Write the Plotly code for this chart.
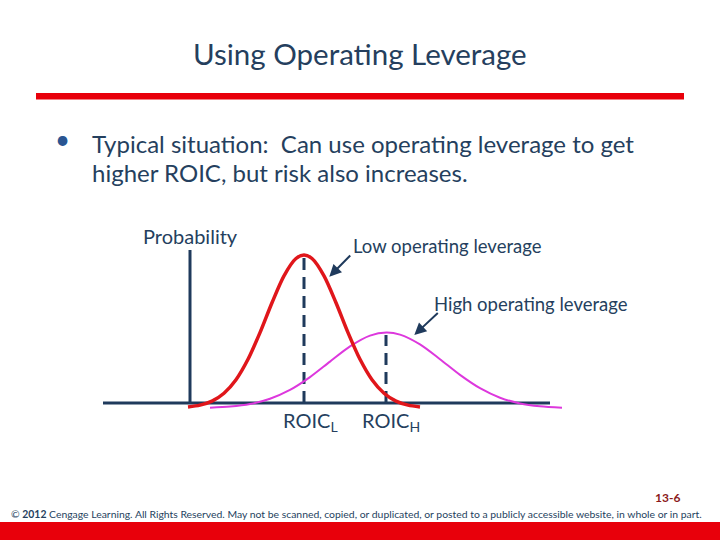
import plotly.graph_objects as go

# ---- data (x: ROIC units, y: probability units) ----
low_x = [-0.2, 1.0, 2.2, 3.4, 4.6, 5.8, 7.0, 8.2, 9.4, 10.6, 11.4, 12.2, 13.4, 14.6, 15.8, 17.0, 18.2, 19.4, 20.6, 21.8, 23.0]
low_y = [-0.39, -0.21, 0.19, 0.98, 2.33, 4.37, 7.04, 10.03, 12.72, 14.45, 14.8, 14.45, 12.72, 10.03, 7.04, 4.37, 2.33, 0.98, 0.19, -0.21, -0.39]

high_x = [2.0, 4.0, 6.0, 8.0, 10.0, 12.0, 14.0, 16.0, 18.0, 19.65, 21.0, 23.0, 25.0, 27.0, 29.0, 31.0, 33.0, 35.0, 37.2]
high_y = [-0.48, -0.36, -0.10, 0.43, 1.31, 2.59, 4.14, 5.66, 6.74, 7.05, 6.84, 5.86, 4.38, 2.81, 1.48, 0.53, -0.04, -0.33, -0.48]

axis_x = [-8.7, 36.0]
prob_axis_top = 15.3
roic_L = 11.4
roic_H = 19.6
roic_L_top = 14.5
roic_H_top = 6.8

TXT = "#253f5e"
NAVY = "#1f3a5c"
RED = "#e0161b"
MAG = "#dd38dd"
BAR = "#e8000b"
FONT = "Lato"

fig = go.Figure()

# axes
fig.add_trace(go.Scatter(x=axis_x, y=[0, 0], mode="lines", line=dict(color=NAVY, width=3), hoverinfo="skip"))
fig.add_trace(go.Scatter(x=[0, 0], y=[0, prob_axis_top], mode="lines", line=dict(color=NAVY, width=3), hoverinfo="skip"))
# dashed ROIC markers
fig.add_trace(go.Scatter(x=[roic_L, roic_L], y=[0, roic_L_top], mode="lines",
                         line=dict(color=NAVY, width=3, dash="12px,7px"), hoverinfo="skip"))
fig.add_trace(go.Scatter(x=[roic_H, roic_H], y=[0, roic_H_top], mode="lines",
                         line=dict(color=NAVY, width=3, dash="12px,7px"), hoverinfo="skip"))
# curves
fig.add_trace(go.Scatter(x=high_x, y=high_y, mode="lines", line=dict(color=MAG, width=2, shape="spline", smoothing=0.8), hoverinfo="skip"))
fig.add_trace(go.Scatter(x=low_x, y=low_y, mode="lines", line=dict(color=RED, width=3.5, shape="spline", smoothing=0.8), hoverinfo="skip"))

ann = []
# data-space labels
ann.append(dict(x=0, y=16.7, xref="x", yref="y", text="Probability", showarrow=False,
                font=dict(family=FONT, size=20, color=TXT), xanchor="center", yanchor="middle"))
ann.append(dict(x=16.1, y=15.7, xref="x", yref="y", text="Low operating leverage", showarrow=False,
                font=dict(family=FONT, size=18.5, color=TXT), xanchor="left", yanchor="middle"))
ann.append(dict(x=24.2, y=9.9, xref="x", yref="y", text="High operating leverage", showarrow=False,
                font=dict(family=FONT, size=18.5, color=TXT), xanchor="left", yanchor="middle"))
ann.append(dict(x=9.1, y=-1.8, xref="x", yref="y", text="ROIC<sub>L</sub>", showarrow=False,
                font=dict(family=FONT, size=20, color=TXT), xanchor="left", yanchor="middle"))
ann.append(dict(x=17.0, y=-1.8, xref="x", yref="y", text="ROIC<sub>H</sub>", showarrow=False,
                font=dict(family=FONT, size=20, color=TXT), xanchor="left", yanchor="middle"))
# arrows
ann.append(dict(x=13.93, y=12.63, ax=16.17, ay=14.9, xref="x", yref="y", axref="x", ayref="y", text="",
                showarrow=True, arrowhead=2, arrowsize=1.2, arrowwidth=2, arrowcolor=NAVY))
ann.append(dict(x=22.43, y=6.8, ax=24.93, ay=9.13, xref="x", yref="y", axref="x", ayref="y", text="",
                showarrow=True, arrowhead=2, arrowsize=1.2, arrowwidth=2, arrowcolor=NAVY))

def px(x):
    return x / 720.0

def py(y):
    return 1 - y / 540.0

# slide text
ann.append(dict(x=px(360), y=py(54), xref="paper", yref="paper", text="Using Operating Leverage", showarrow=False,
                font=dict(family=FONT, size=29.5, color=TXT), xanchor="center", yanchor="middle"))
ann.append(dict(x=px(62), y=py(139), xref="paper", yref="paper", text="•", showarrow=False,
                font=dict(family=FONT, size=26, color="#2a5592"), xanchor="center", yanchor="middle"))
ann.append(dict(x=px(90), y=py(144), xref="paper", yref="paper", text="Typical situation:  Can use operating leverage to get",
                showarrow=False, font=dict(family=FONT, size=24, color=TXT), xanchor="left", yanchor="middle"))
ann.append(dict(x=px(90), y=py(172), xref="paper", yref="paper", text="higher ROIC, but risk also increases.",
                showarrow=False, font=dict(family=FONT, size=24, color=TXT), xanchor="left", yanchor="middle"))
ann.append(dict(x=px(682), y=py(497), xref="paper", yref="paper", text="<b>13-6</b>", showarrow=False,
                font=dict(family=FONT, size=12, color="#8b1a1a"), xanchor="right", yanchor="middle"))
ann.append(dict(x=px(356), y=py(514), xref="paper", yref="paper",
                text="© <b>2012</b> Cengage Learning. All Rights Reserved. May not be scanned, copied, or duplicated, or posted to a publicly accessible website, in whole or in part.",
                showarrow=False, font=dict(family=FONT, size=10.4, color=TXT), xanchor="center", yanchor="middle"))

shapes = [
    dict(type="rect", xref="paper", yref="paper", x0=px(36), x1=px(684), y0=py(99.5), y1=py(93), fillcolor=BAR, line=dict(width=0), layer="below"),
    dict(type="rect", xref="paper", yref="paper", x0=0, x1=1, y0=0, y1=py(522), fillcolor=BAR, line=dict(width=0), layer="below"),
]

fig.update_layout(
    width=720, height=540, autosize=False,
    margin=dict(l=0, r=0, t=0, b=0),
    paper_bgcolor="white", plot_bgcolor="white",
    showlegend=False,
    xaxis=dict(range=[-19, 53], visible=False, fixedrange=True),
    yaxis=dict(range=[-13.7, 40.3], visible=False, fixedrange=True),
    annotations=ann, shapes=shapes,
)

fig.write_html("out.html", config={"displayModeBar": False},
               post_script="document.body.style.margin='0';document.body.style.overflow='hidden';")
